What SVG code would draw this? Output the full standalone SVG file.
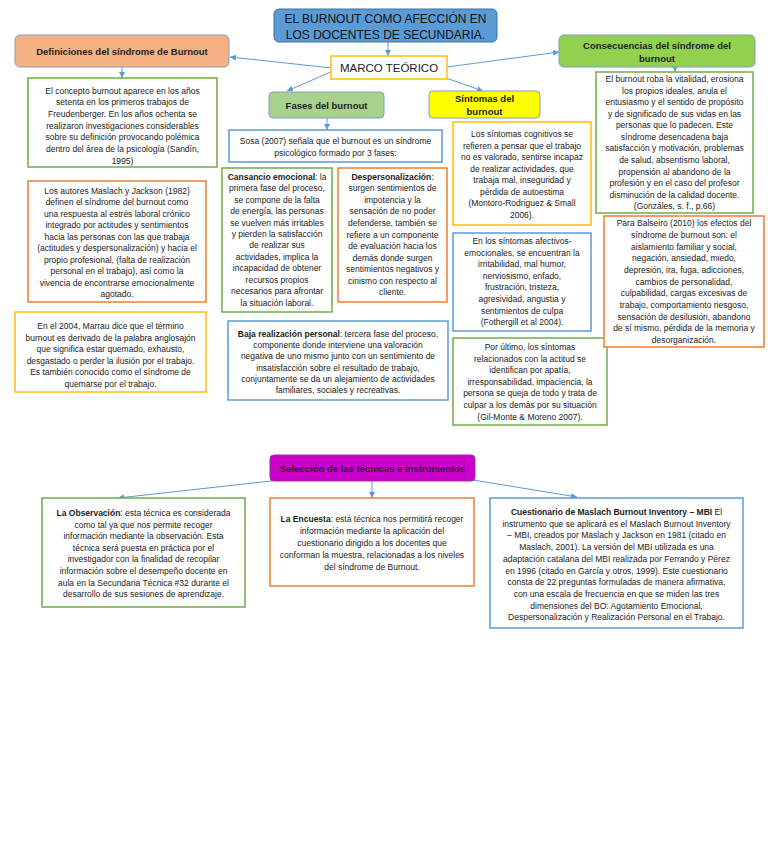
<svg xmlns="http://www.w3.org/2000/svg" width="768" height="866" viewBox="0 0 768 866">
<style>
text{font-family:"Liberation Sans",Arial,sans-serif;text-anchor:middle;fill:#222}
.t{font-size:8.5px}
.h{font-size:9.5px;font-weight:bold}
.b{font-weight:bold}
.ti{font-size:12px;fill:#111}
.g{fill:#fff;stroke:#70ad47;stroke-width:1.5}
.o{fill:#fff;stroke:#ed7d31;stroke-width:1.5}
.y{fill:#fff;stroke:#ffc000;stroke-width:1.5}
.u{fill:#fff;stroke:#5b9bd5;stroke-width:1.5}
.hd{stroke:#7f9fbf;stroke-width:1}
.c{fill:none;stroke:#5b9bd5;stroke-width:1;marker-end:url(#ah)}
</style>
<defs>
<marker id="ah" markerUnits="userSpaceOnUse" markerWidth="6" markerHeight="6" refX="6" refY="3" orient="auto">
<path d="M0,0 L6,3 L0,6 z" fill="#5b9bd5"/>
</marker>
</defs>
<rect width="768" height="866" fill="#fff"/>
<g id="connectors">
<path class="c" d="M388,42 L388,56"/>
<path class="c" d="M332,68 L230,57"/>
<path class="c" d="M333,71 L287,91"/>
<path class="c" d="M446,78 L483,91"/>
<path class="c" d="M447,67 L559,52"/>
<path class="c" d="M122,67 L122,78"/>
<path class="c" d="M327,118 L327,130"/>
<path class="c" d="M675,67 L675,72"/>
<path class="c" d="M280,480 L118,498"/>
<path class="c" d="M372,481 L372,498"/>
<path class="c" d="M473,480 L577,497"/>
</g>
<g id="title">
<rect x="274" y="9" width="223" height="33" rx="5" fill="#5b9bd5" stroke="#41719c" stroke-width="1"/>
<text class="ti" x="385.5" y="23">EL BURNOUT COMO AFECCIÓN EN</text>
<text class="ti" x="385.5" y="38.5">LOS DOCENTES DE SECUNDARIA.</text>
</g>
<g id="marco">
<rect x="331" y="56" width="116" height="23" fill="#fff" stroke="#ffc000" stroke-width="1.5"/>
<text x="389" y="72" style="font-size:11.5px">MARCO TEÓRICO</text>
</g>
<g id="definiciones">
<rect class="hd" x="15" y="35" width="214" height="32" rx="5" fill="#f4b183" stroke="#f4b183"/>
<text class="h" x="122" y="54.5">Definiciones del síndrome de Burnout</text>
</g>
<g id="consecuencias">
<rect class="hd" x="559" y="35" width="196" height="32" rx="5" fill="#92d050"/>
<text class="h" x="657" y="48.5">Consecuencias del síndrome del</text>
<text class="h" x="657" y="61.5">burnout</text>
</g>
<g id="fases">
<rect class="hd" x="269" y="92" width="115" height="26" rx="4" fill="#a9d18e"/>
<text class="h" x="326.5" y="108.5">Fases del burnout</text>
</g>
<g id="sintomas">
<rect class="hd" x="429" y="91" width="111" height="27" rx="4" fill="#ffff00"/>
<text class="h" x="484.5" y="102.2">Síntomas del</text>
<text class="h" x="484.5" y="115.2">burnout</text>
</g>
<g id="def1">
<rect class="g" x="28" y="78" width="189" height="89"/>
<text class="t" x="122.5" y="93.5">El concepto burnout aparece en los años</text>
<text class="t" x="122.5" y="105.2">setenta en los primeros trabajos de</text>
<text class="t" x="122.5" y="116.9">Freudenberger. En los años ochenta se</text>
<text class="t" x="122.5" y="128.6">realizaron investigaciones considerables</text>
<text class="t" x="122.5" y="140.3">sobre su definición provocando polémica</text>
<text class="t" x="122.5" y="152">dentro del área de la psicología (Sandín,</text>
<text class="t" x="122.5" y="163.7">1995)</text>
</g>
<g id="def2">
<rect class="o" x="28" y="181" width="178" height="121"/>
<text class="t" x="117" y="193.7">Los autores Maslach y Jackson (1982)</text>
<text class="t" x="117" y="205.2">definen el síndrome del burnout como</text>
<text class="t" x="117" y="216.7">una respuesta al estrés laboral crónico</text>
<text class="t" x="117" y="228.2">integrado por actitudes y sentimientos</text>
<text class="t" x="117" y="239.7">hacia las personas con las que trabaja</text>
<text class="t" x="117" y="251.2">(actitudes y despersonalización) y hacia el</text>
<text class="t" x="117" y="262.7">propio profesional, (falta de realización</text>
<text class="t" x="117" y="274.2">personal en el trabajo), así como la</text>
<text class="t" x="117" y="285.7">vivencia de encontrarse emocionalmente</text>
<text class="t" x="117" y="297.2">agotado.</text>
</g>
<g id="def3">
<rect class="y" x="15" y="312" width="191" height="80"/>
<text class="t" x="110.5" y="329">En el 2004, Marrau dice que el término</text>
<text class="t" x="110.5" y="340.5">burnout es derivado de la palabra anglosajón</text>
<text class="t" x="110.5" y="352">que significa estar quemado, exhausto,</text>
<text class="t" x="110.5" y="363.5">desgastado o perder la ilusión por el trabajo.</text>
<text class="t" x="110.5" y="375">Es también conocido como el síndrome de</text>
<text class="t" x="110.5" y="386.5">quemarse por el trabajo.</text>
</g>
<g id="sosa">
<rect class="u" x="229" y="130" width="213" height="32"/>
<text class="t" x="335.5" y="143.7">Sosa (2007) señala que el burnout es un síndrome</text>
<text class="t" x="335.5" y="155.7">psicológico formado por 3 fases:</text>
</g>
<g id="cansancio">
<rect class="g" x="222" y="168" width="110" height="144"/>
<text class="t" x="277" y="179.7"><tspan class="b">Cansancio emocional</tspan>: la</text>
<text class="t" x="277" y="191.2">primera fase del proceso,</text>
<text class="t" x="277" y="202.6">se compone de la falta</text>
<text class="t" x="277" y="214.1">de energía, las personas</text>
<text class="t" x="277" y="225.5">se vuelven más irritables</text>
<text class="t" x="277" y="237">y pierden la satisfacción</text>
<text class="t" x="277" y="248.4">de realizar sus</text>
<text class="t" x="277" y="259.9">actividades, implica la</text>
<text class="t" x="277" y="271.3">incapacidad de obtener</text>
<text class="t" x="277" y="282.8">recursos propios</text>
<text class="t" x="277" y="294.2">necesarios para afrontar</text>
<text class="t" x="277" y="305.7">la situación laboral.</text>
</g>
<g id="despersonalizacion">
<rect class="o" x="338" y="168" width="109" height="134"/>
<text class="t" x="392.5" y="179.7"><tspan class="b">Despersonalización</tspan>:</text>
<text class="t" x="392.5" y="191.3">surgen sentimientos de</text>
<text class="t" x="392.5" y="202.8">impotencia y la</text>
<text class="t" x="392.5" y="214.4">sensación de no poder</text>
<text class="t" x="392.5" y="225.9">defenderse, también se</text>
<text class="t" x="392.5" y="237.5">refiere a un componente</text>
<text class="t" x="392.5" y="249.1">de evaluación hacia los</text>
<text class="t" x="392.5" y="260.6">demás donde surgen</text>
<text class="t" x="392.5" y="272.2">sentimientos negativos y</text>
<text class="t" x="392.5" y="283.7">cinismo con respecto al</text>
<text class="t" x="392.5" y="295.3">cliente.</text>
</g>
<g id="baja">
<rect class="u" x="228" y="321" width="220" height="79"/>
<text class="t" x="338" y="337"><tspan class="b">Baja realización personal</tspan>: tercera fase del proceso,</text>
<text class="t" x="338" y="348.2">componente donde interviene una valoración</text>
<text class="t" x="338" y="359.4">negativa de uno mismo junto con un sentimiento de</text>
<text class="t" x="338" y="370.6">insatisfacción sobre el resultado de trabajo,</text>
<text class="t" x="338" y="381.8">conjuntamente se da un alejamiento de actividades</text>
<text class="t" x="338" y="393">familiares, sociales y recreativas.</text>
</g>
<g id="cognitivos">
<rect class="y" x="453" y="122" width="138" height="103"/>
<text class="t" x="522" y="137">Los síntomas cognitivos se</text>
<text class="t" x="522" y="148.5">refieren a pensar que el trabajo</text>
<text class="t" x="522" y="160">no es valorado, sentirse incapaz</text>
<text class="t" x="522" y="171.5">de realizar actividades, que</text>
<text class="t" x="522" y="183">trabaja mal, inseguridad y</text>
<text class="t" x="522" y="194.5">pérdida de autoestima</text>
<text class="t" x="522" y="206">(Montoro-Rodriguez &amp; Small</text>
<text class="t" x="522" y="217.5">2006).</text>
</g>
<g id="afectivos">
<rect class="u" x="453" y="233" width="138" height="98"/>
<text class="t" x="522" y="244">En los síntomas afectivos-</text>
<text class="t" x="522" y="255.6">emocionales, se encuentran la</text>
<text class="t" x="522" y="267.2">irritabilidad, mal humor,</text>
<text class="t" x="522" y="278.8">nerviosismo, enfado,</text>
<text class="t" x="522" y="290.4">frustración, tristeza,</text>
<text class="t" x="522" y="302">agresividad, angustia y</text>
<text class="t" x="522" y="313.6">sentimientos de culpa</text>
<text class="t" x="522" y="325.2">(Fothergill et al 2004).</text>
</g>
<g id="actitud">
<rect class="g" x="453" y="338" width="154" height="87"/>
<text class="t" x="530" y="350">Por último, los síntomas</text>
<text class="t" x="530" y="361.6">relacionados con la actitud se</text>
<text class="t" x="530" y="373.2">identifican por apatía,</text>
<text class="t" x="530" y="384.8">irresponsabilidad, impaciencia, la</text>
<text class="t" x="530" y="396.4">persona se queja de todo y trata de</text>
<text class="t" x="530" y="408">culpar a los demás por su situación</text>
<text class="t" x="530" y="419.6">(Gil-Monte &amp; Moreno 2007).</text>
</g>
<g id="cons1">
<rect class="g" x="596" y="72" width="157" height="141"/>
<text class="t" x="674.5" y="82.3">El burnout roba la vitalidad, erosiona</text>
<text class="t" x="674.5" y="93.8">los propios ideales, anula el</text>
<text class="t" x="674.5" y="105.3">entusiasmo y el sentido de propósito</text>
<text class="t" x="674.5" y="116.9">y de significado de sus vidas en las</text>
<text class="t" x="674.5" y="128.4">personas que lo padecen. Este</text>
<text class="t" x="674.5" y="139.9">síndrome desencadena baja</text>
<text class="t" x="674.5" y="151.4">satisfacción y motivación, problemas</text>
<text class="t" x="674.5" y="162.9">de salud, absentismo laboral,</text>
<text class="t" x="674.5" y="174.5">propensión al abandono de la</text>
<text class="t" x="674.5" y="186">profesión y en el caso del profesor</text>
<text class="t" x="674.5" y="197.5">disminución de la calidad docente.</text>
<text class="t" x="674.5" y="209">(Gonzáles, s. f., p.66)</text>
</g>
<g id="cons2">
<rect class="o" x="604" y="216" width="160" height="131"/>
<text class="t" x="684" y="226.3">Para Balseiro (2010) los efectos del</text>
<text class="t" x="684" y="238">síndrome de burnout son: el</text>
<text class="t" x="684" y="249.6">aislamiento familiar y social,</text>
<text class="t" x="684" y="261.3">negación, ansiedad, miedo,</text>
<text class="t" x="684" y="273">depresión, ira, fuga, adicciones,</text>
<text class="t" x="684" y="284.6">cambios de personalidad,</text>
<text class="t" x="684" y="296.3">culpabilidad, cargas excesivas de</text>
<text class="t" x="684" y="308">trabajo, comportamiento riesgoso,</text>
<text class="t" x="684" y="319.7">sensación de desilusión, abandono</text>
<text class="t" x="684" y="331.3">de sí mismo, pérdida de la memoria y</text>
<text class="t" x="684" y="343">desorganización.</text>
</g>
<g id="seleccion">
<rect x="270" y="455" width="205" height="26" rx="4" fill="#cc00cc" stroke="#9f2f9f" stroke-width="1"/>
<text class="h" x="372.5" y="471.5">Selección de las técnicas e instrumentos</text>
</g>
<g id="observacion">
<rect class="g" x="42" y="498" width="203" height="109"/>
<text class="t" x="143.5" y="516"><tspan class="b">La Observación</tspan>: esta técnica es considerada</text>
<text class="t" x="143.5" y="527.6">como tal ya que nos permite recoger</text>
<text class="t" x="143.5" y="539.2">información mediante la observación. Esta</text>
<text class="t" x="143.5" y="550.8">técnica será puesta en práctica por el</text>
<text class="t" x="143.5" y="562.4">investigador con la finalidad de recopilar</text>
<text class="t" x="143.5" y="574">información sobre el desempeño docente en</text>
<text class="t" x="143.5" y="585.6">aula en la Secundaria Técnica #32 durante el</text>
<text class="t" x="143.5" y="597.2">desarrollo de sus sesiones de aprendizaje.</text>
</g>
<g id="encuesta">
<rect class="o" x="270" y="498" width="204" height="88"/>
<text class="t" x="372" y="522"><tspan class="b">La Encuesta</tspan>: está técnica nos permitirá recoger</text>
<text class="t" x="372" y="534">información mediante la aplicación del</text>
<text class="t" x="372" y="546">cuestionario dirigido a los docentes que</text>
<text class="t" x="372" y="558">conforman la muestra, relacionadas a los niveles</text>
<text class="t" x="372" y="570">del síndrome de Burnout.</text>
</g>
<g id="cuestionario">
<rect class="u" x="490" y="498" width="253" height="130"/>
<text class="t" x="616.5" y="515"><tspan class="b">Cuestionario de Maslach Burnout Inventory – MBI</tspan> El</text>
<text class="t" x="616.5" y="526.7">instrumento que se aplicará es el Maslach Burnout Inventory</text>
<text class="t" x="616.5" y="538.4">– MBI, creados por Maslach y Jackson en 1981 (citado en</text>
<text class="t" x="616.5" y="550.1">Maslach, 2001). La versión del MBI utilizada es una</text>
<text class="t" x="616.5" y="561.8">adaptación catalana del MBI realizada por Ferrando y Pérez</text>
<text class="t" x="616.5" y="573.5">en 1996 (citado en García y otros, 1999). Este cuestionario</text>
<text class="t" x="616.5" y="585.2">consta de 22 preguntas formuladas de manera afirmativa,</text>
<text class="t" x="616.5" y="596.9">con una escala de frecuencia en que se miden las tres</text>
<text class="t" x="616.5" y="608.6">dimensiones del BO: Agotamiento Emocional,</text>
<text class="t" x="616.5" y="620.3">Despersonalización y Realización Personal en el Trabajo.</text>
</g>
</svg>
